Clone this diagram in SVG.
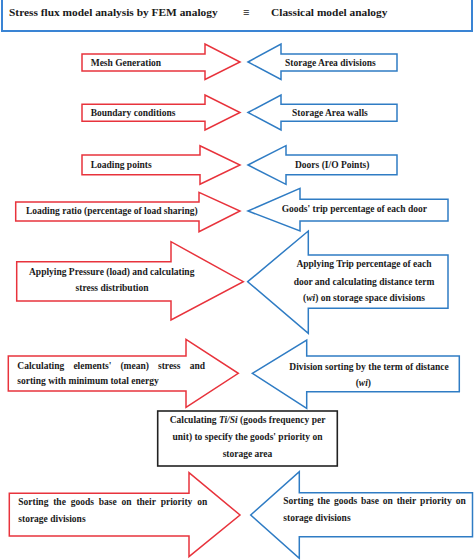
<svg xmlns="http://www.w3.org/2000/svg" width="474" height="560" viewBox="0 0 474 560">
<style>
text{font-family:"Liberation Serif","Times New Roman",serif;font-weight:bold;font-size:9.5px;fill:#1a1a1a}
.h{font-size:11.4px}
.c{text-anchor:middle}
.r{fill:#fff;stroke:#e8333c;stroke-width:1.5}
.b{fill:#fff;stroke:#2f7cc4;stroke-width:1.5}
.box{fill:#fff;stroke:#222;stroke-width:1.6}
</style>
<rect width="474" height="560" fill="#fff"/>
<g id="header">
<rect x="2" y="-1" width="470" height="32" fill="#fff" stroke="#3a84d4" stroke-width="2"/>
<text class="h" x="9" y="16">Stress flux model analysis by FEM analogy</text>
<text class="h" x="243" y="16">≡</text>
<text class="h" x="271" y="16">Classical model analogy</text>
</g>
<g id="connectors">
<g id="a1">
<polygon class="r" points="82,54 205,54 205,44 240,62 205,79.5 205,71 82,71"/>
<polygon class="b" points="248,62 281,44 281,54 397,54 397,71 281,71 281,79.5"/>
</g>
<g id="a2">
<polygon class="r" points="82,104.3 205,104.3 205,95 240,112.5 205,130 205,121.3 82,121.3"/>
<polygon class="b" points="248,112.5 281,95 281,104.3 397,104.3 397,121.3 281,121.3 281,130"/>
</g>
<g id="a3">
<polygon class="r" points="82,155 200,155 200,145.7 240,165 200,184.3 200,174.7 82,174.7"/>
<polygon class="b" points="248,165 286,145.7 286,155 397,155 397,174.7 286,174.7 286,184.3"/>
</g>
<g id="a4">
<polygon class="r" points="15.7,202 199,202 199,192.3 240,211 199,231.7 199,221 15.7,221"/>
<polygon class="b" points="248,211 300,188.3 300,199.3 448,199.3 448,221 300,221 300,231"/>
</g>
<g id="a5">
<polygon class="r" points="16.7,261.7 171,261.7 171,241.7 243.3,281.7 171,320 171,301 16.7,301"/>
<polygon class="b" points="247.7,281.7 308.3,231 308.3,255 448,255 448,308.3 308.3,308.3 308.3,333.3"/>
</g>
<g id="a6">
<polygon class="r" points="8.3,356 186,356 186,339.3 238.3,373.3 186,407.3 186,391 8.3,391"/>
<polygon class="b" points="252.3,373.3 306.7,340 306.7,356 459.3,356 459.3,391.7 306.7,391.7 306.7,408.3"/>
</g>
<g id="a7">
<polygon class="r" points="9.3,493.3 189,493.3 189,472.7 240,515 189,556.7 189,536 9.3,536"/>
<polygon class="b" points="250.7,515 299.3,471.7 299.3,492.7 472.5,492.7 472.5,536.7 299.3,536.7 299.3,558.3"/>
</g>
</g>
<g id="n1l"><text x="90.7" y="65.7">Mesh Generation</text></g>
<g id="n1r"><text x="285" y="65.7">Storage Area divisions</text></g>
<g id="n2l"><text x="90.7" y="115.5">Boundary conditions</text></g>
<g id="n2r"><text x="292" y="115.5">Storage Area walls</text></g>
<g id="n3l"><text x="90.7" y="167.5">Loading points</text></g>
<g id="n3r"><text x="295" y="167.5">Doors (I/O Points)</text></g>
<g id="n4l"><text x="26" y="213.5">Loading ratio (percentage of load sharing)</text></g>
<g id="n4r"><text x="281.7" y="212">Goods' trip percentage of each door</text></g>
<g id="n5l">
<text class="c" x="111.7" y="274.7">Applying Pressure (load) and calculating</text>
<text class="c" x="112" y="290.7">stress distribution</text>
</g>
<g id="n5r">
<text class="c" x="364" y="267.3">Applying Trip percentage of each</text>
<text class="c" x="364" y="285">door and calculating distance term</text>
<text class="c" x="364" y="301">(<tspan font-style="italic">wi</tspan>) on storage space divisions</text>
</g>
<g id="n6l">
<text y="369"><tspan x="17.3">Calculating</tspan><tspan x="73.4">elements'</tspan><tspan x="120.4">(mean)</tspan><tspan x="158">stress</tspan><tspan x="189.7">and</tspan></text>
<text x="17.3" y="384.3">sorting with minimum  total energy</text>
</g>
<g id="n6r">
<text x="289.3" y="370">Division sorting by the term of distance</text>
<text class="c" x="363.3" y="385.7">(<tspan font-style="italic">wi</tspan>)</text>
</g>
<g id="n7">
<rect class="box" x="157.7" y="411" width="179.6" height="55"/>
<text class="c" x="247.5" y="423.3">Calculating <tspan font-style="italic">Ti/Si</tspan> (goods frequency per</text>
<text class="c" x="247.5" y="440">unit) to specify the goods' priority on</text>
<text class="c" x="247.5" y="456.7">storage area</text>
</g>
<g id="n8l">
<text y="505"><tspan x="18.3">Sorting</tspan><tspan x="53.2">the</tspan><tspan x="70.7">goods</tspan><tspan x="98.8">base</tspan><tspan x="121.5">on</tspan><tspan x="136.4">their</tspan><tspan x="160.7">priority</tspan><tspan x="197.3">on</tspan></text>
<text x="18.3" y="521.7">storage divisions</text>
</g>
<g id="n8r">
<text y="504"><tspan x="283.3">Sorting</tspan><tspan x="317.3">the</tspan><tspan x="333.9">goods</tspan><tspan x="361">base</tspan><tspan x="382.8">on</tspan><tspan x="396.7">their</tspan><tspan x="420.1">priority</tspan><tspan x="455.7">on</tspan></text>
<text x="283.3" y="520.7">storage divisions</text>
</g>
</svg>
